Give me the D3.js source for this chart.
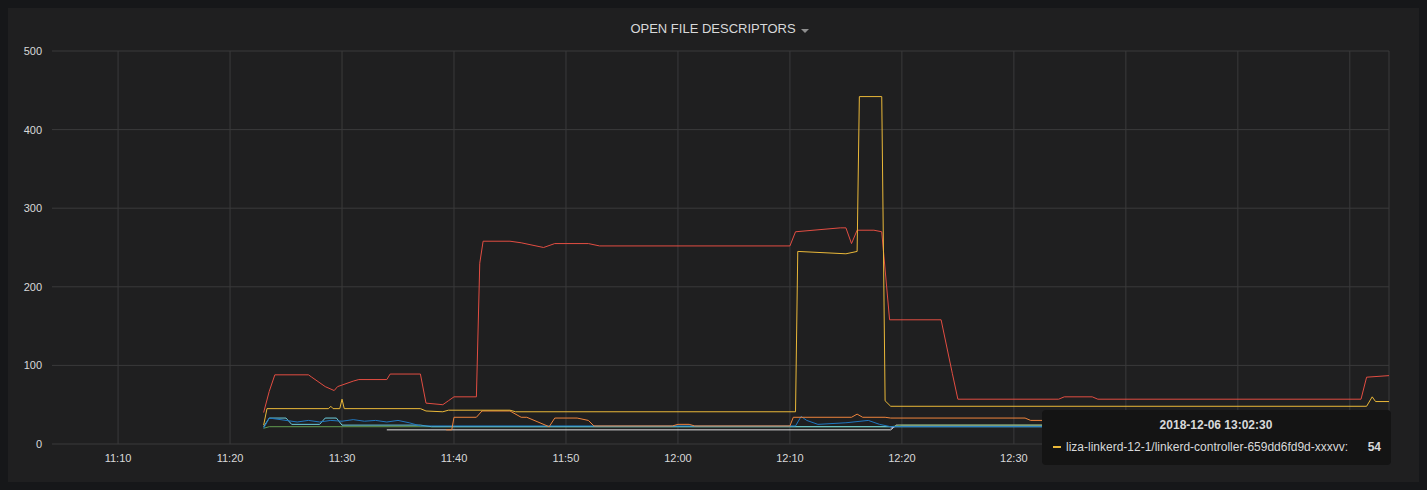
<!DOCTYPE html>
<html><head><meta charset="utf-8">
<script src="https://cdn.jsdelivr.net/npm/d3@7"></script>
<style>
body{margin:0;background:#161719;font-family:"Liberation Sans",Arial,sans-serif;}
</style></head><body>
<svg id="c" width="1427" height="490"></svg>
<script>
const title = "OPEN FILE DESCRIPTORS";
const yTicks = [0,100,200,300,400,500];
const xTicks = ["11:10","11:20","11:30","11:40","11:50","12:00","12:10","12:20","12:30","12:40","12:50","13:00"];
const tooltipTime = "2018-12-06 13:02:30";
const tooltipName = "liza-linkerd-12-1/linkerd-controller-659dd6fd9d-xxxvv:";
const tooltipValue = 54;

const redT = ["11:23","11:23.5","11:24","11:27","11:27.3","11:28.5","11:29.3","11:29.6","11:30","11:31","11:31.5","11:34","11:34.3","11:37","11:37.5","11:39","11:39.5","11:40","11:42","11:42.3","11:42.6","11:45","11:46","11:48","11:49","11:52","11:53","12:10","12:10.5","12:14.5","12:15","12:15.5","12:16","12:17.5","12:18.2","12:18.9","12:23.5","12:24.5","12:25","12:34","12:34.5","12:37","12:37.5","13:01","13:01.5","13:03.5"];
const redV = [40,67,88,88,85,73,68,73,75,80,82,82,89,89,52,50,55,60,60,230,258,258,256,250,255,255,252,252,270,275,275,255,272,272,270,158,158,90,57,57,60,60,57,57,85,87];

const yelT = ["11:23","11:23.3","11:28.8","11:29","11:29.2","11:29.8","11:30","11:30.2","11:37","11:37.5","11:39","11:39.5","11:45","11:45.5","12:10.5","12:10.7","12:15","12:16","12:16.2","12:18.2","12:18.5","12:19","13:01.5","13:02","13:02.3","13:03.5"];
const yelV = [24,45,45,48,45,45,57,45,45,42,41,43,43,41,41,245,242,245,442,442,55,48,48,60,54,54];

const oraT = ["11:39.3","11:39.8","11:40","11:42","11:42.5","11:45","11:46","11:46.5","11:47.5","11:48.5","11:49","11:51","11:52","11:52.5","11:59.5","12:00","12:01","12:01.5","12:10","12:10.3","12:15.5","12:16","12:16.5","12:18.5","12:19","12:31","12:31.5","13:03.5"];
const oraV = [18,18,34,34,42,42,34,34,28,22,33,33,30,23,23,25,25,23,23,34,34,38,34,34,33,33,30,30];

const bluT = ["11:23","11:23.5","11:25","11:26","11:27","11:28","11:29","11:30","11:31","11:32","11:33","11:34","11:35","11:36","11:37","12:10.5","12:11","12:11.5","12:12.5","12:15","12:17","12:18","12:19","13:03.5"];
const bluV = [20,33,30,28,30,28,30,29,31,29,30,28,30,27,23,23,35,30,25,27,30,25,22,22];

const cyaT = ["11:23","11:23.5","11:25","11:25.5","11:28","11:28.5","11:29.5","11:30","11:37","11:38","12:19","13:03.5"];
const cyaV = [22,33,33,25,25,33,33,24,24,22,22,22];

const grnT = ["11:23","11:23.5","12:19","12:20","13:03.5"];
const grnV = [20,22,22,24,24];

const whtT = ["11:34","12:19","12:19.5","13:03.5"];
const whtV = [18,18,24,24];

const pnkT = ["12:19","12:19.5","13:03.5"];
const pnkV = [20,23,23];

const series = [
 {t:whtT,v:whtV,c:"#e0e0e0"},
 {t:pnkT,v:pnkV,c:"#c8a8d8"},
 {t:grnT,v:grnV,c:"#629e51"},
 {t:cyaT,v:cyaV,c:"#6ed0e0"},
 {t:bluT,v:bluV,c:"#1f78c1"},
 {t:oraT,v:oraV,c:"#ef843c"},
 {t:redT,v:redV,c:"#e24d42"},
 {t:yelT,v:yelV,c:"#eab839"}
];

function toMin(s){const [h,m]=s.split(":");return (+h)*60+(+m);}
const svg=d3.select("#c");
svg.append("rect").attr("x",8).attr("y",8).attr("width",1411).attr("height",474).attr("fill","#1f1f20");
const x=d3.scaleLinear().domain([toMin("11:04.1"),toMin("13:03.5")]).range([52,1389]);
const y=d3.scaleLinear().domain([0,500]).range([444,51]);

svg.append("text").attr("x",713).attr("y",33).attr("text-anchor","middle").attr("fill","#d8d9da")
 .style("font-size","13px").style("font-weight","500").text(title);
svg.append("path").attr("d","M801,29 L809,29 L805,33 Z").attr("fill","#8e8e8e");

const g=svg.append("g");
g.append("g").selectAll("line").data(yTicks).join("line")
 .attr("x1",52).attr("x2",1389).attr("y1",d=>y(d)).attr("y2",d=>y(d)).attr("stroke","#3a3a3b").attr("stroke-width",1);
g.append("g").selectAll("line").data(xTicks).join("line")
 .attr("x1",d=>x(toMin(d))).attr("x2",d=>x(toMin(d))).attr("y1",51).attr("y2",444).attr("stroke","#3a3a3b");
g.append("line").attr("x1",1389).attr("x2",1389).attr("y1",51).attr("y2",444).attr("stroke","#3a3a3b");
g.append("g").selectAll("text").data(yTicks).join("text")
 .attr("x",42).attr("y",d=>y(d)+4).attr("text-anchor","end").attr("fill","#d8d9da").style("font-size","11px").text(d=>d);
g.append("g").selectAll("text").data(xTicks).join("text")
 .attr("x",d=>x(toMin(d))).attr("y",462).attr("text-anchor","middle").attr("fill","#d8d9da").style("font-size","11px").text(d=>d);

const line=d3.line().x(d=>x(d[0])).y(d=>y(d[1]));
series.forEach(s=>{
 const pts=s.t.map((t,i)=>[toMin(t),s.v[i]]);
 g.append("path").attr("d",line(pts)).attr("fill","none").attr("stroke",s.c).attr("stroke-width",1);
});

const tt=svg.append("g");
tt.append("rect").attr("x",1042).attr("y",410).attr("width",349).attr("height",55).attr("rx",4).attr("fill","#141414");
tt.append("text").attr("x",1216).attr("y",429).attr("text-anchor","middle").attr("fill","#d8d9da")
 .style("font-size","12px").style("font-weight","bold").text(tooltipTime);
tt.append("rect").attr("x",1053).attr("y",446).attr("width",8).attr("height",2).attr("fill","#eab839");
tt.append("text").attr("x",1066).attr("y",451).attr("fill","#d8d9da").style("font-size","12px").text(tooltipName);
tt.append("text").attr("x",1381).attr("y",451).attr("text-anchor","end").attr("fill","#d8d9da")
 .style("font-size","12px").style("font-weight","bold").text(tooltipValue);
</script></body></html>
